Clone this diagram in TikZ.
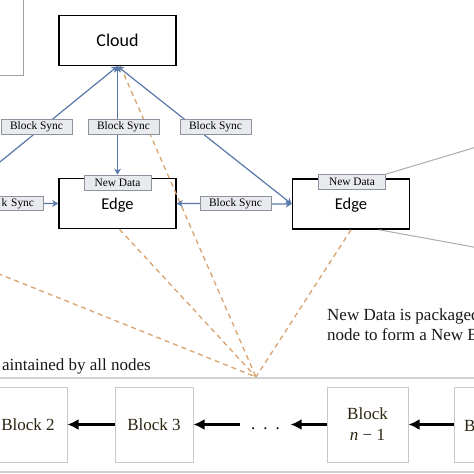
\documentclass[tikz,border=0pt]{standalone}
\usepackage{fontspec}
\setmainfont{Liberation Serif}
\newfontfamily\carlito{Carlito}
\usetikzlibrary{arrows.meta}
\definecolor{syncblue}{HTML}{5878AC}
\definecolor{labelfill}{HTML}{E8EAEE}
\definecolor{labeldraw}{HTML}{8C939C}
\definecolor{dashorange}{HTML}{D9A36E}
\definecolor{framegray}{HTML}{D2D2D2}
\definecolor{blockgray}{HTML}{C9C9C9}
\definecolor{blocktext}{HTML}{2A2410}
\begin{document}
\begin{tikzpicture}[x=1pt,y=-1pt,
  mainbox/.style={draw=black, line width=1.6pt, fill=white, minimum width=117pt, minimum height=50pt, inner sep=0pt},
  synclabel/.style={draw=labeldraw, line width=0.8pt, fill=labelfill, font=\fontsize{11.4}{13}\selectfont, minimum width=71pt, minimum height=14.5pt, inner sep=0pt},
  syncarrow/.style={draw=syncblue, line width=1.2pt, {Stealth[length=6pt,width=7pt]}-{Stealth[length=6pt,width=7pt]}},
  orangedash/.style={draw=dashorange, line width=1.3pt, dash pattern=on 5pt off 4pt},
  greyline/.style={draw=gray!65, line width=1pt},
  blockbox/.style={draw=blockgray, line width=1pt, fill=white, minimum width=78pt, minimum height=75pt, inner sep=0pt, text=blocktext, font=\fontsize{17}{21}\selectfont, align=center},
  chainarrow/.style={draw=black, line width=3pt, -{Latex[length=11pt,width=11pt]}},
  captiontext/.style={font=\fontsize{17}{20}\selectfont, text=black!90, inner sep=0pt}
]
\useasboundingbox (0,0) rectangle (474,474);
\clip (0,0) rectangle (474,474);
\fill[white] (0,0) rectangle (474,474);

% top-left partial box
\node[draw=gray!75, line width=1pt, minimum width=100pt, minimum height=100pt, anchor=south east, inner sep=0pt] (topleft) at (24,76) {};

% main boxes
\node[mainbox, font=\carlito\fontsize{18}{20}\selectfont] (cloud) at (117.5,40.5) {Cloud};
\node[mainbox] (edge1) at (117.5,203.5) {};
\node[mainbox] (edge2) at (351,204) {};
\node[mainbox] (edge0) at (-111,204) {};
\node[font=\carlito\fontsize{16.5}{18}\selectfont, anchor=base, inner sep=0pt] (edge1txt) at (117.5,209.5) {Edge};
\node[font=\carlito\fontsize{16.5}{18}\selectfont, anchor=base, inner sep=0pt] (edge2txt) at (351,209.5) {Edge};

% new data labels
\node[synclabel, minimum width=67pt, minimum height=15pt] (nd1) at (117.5,182.5) {New Data};
\node[synclabel, minimum width=67pt, minimum height=15pt] (nd2) at (352,182) {New Data};

% grey zoom lines from right edge
\coordinate (zoomtop) at (520,134);
\coordinate (zoombot) at (520,255.5);
\draw[greyline] (nd2.north east) -- (zoomtop);
\draw[greyline] ([xshift=-31pt]edge2.south east) -- (zoombot);

% orange dashed lines
\coordinate (apex) at (256,377);
\draw[orangedash] ([xshift=3pt]cloud.south) -- (apex);
\draw[orangedash] ([xshift=2pt]edge1.south) -- (apex);
\draw[orangedash] (edge2.south) -- (apex);
\draw[orangedash] (edge0.south) -- (apex);

% block sync arrows
\draw[syncarrow] (cloud.south) -- (edge0.east);
\draw[syncarrow] (cloud.south) -- (nd1.north);
\draw[syncarrow] (cloud.south) -- (edge2.west);
\draw[syncarrow] (edge1.east) -- (edge2.west);
\draw[syncarrow] (edge0.east) -- (edge1.west);

% block sync labels
\node[synclabel] (bs1) at (36.5,127) {Block Sync};
\node[synclabel] (bs2) at (123.5,127) {Block Sync};
\node[synclabel] (bs3) at (215.5,127) {Block Sync};
\node[synclabel] (bs4) at (235.5,203.5) {Block Sync};
\node[synclabel, text width=53pt, align=right] (bs5) at (7.5,203.5) {k Sync};

% caption texts
\node[captiontext, anchor=base east] (chaincap) at (151,370) {aintained by all nodes};
\node[captiontext, anchor=base west] (cap1) at (327,320) {New Data is packaged};
\node[captiontext, anchor=base west] (cap2) at (327,340) {node to form a New B};

% chain frame
\node[draw=framegray, line width=2pt, minimum width=494pt, minimum height=94pt, inner sep=0pt] (chain) at (237,425) {};

% blocks
\node[blockbox] (block2) at (28,424.5) {Block 2};
\node[blockbox] (block3) at (154,424.5) {Block 3};
\node[blockbox, minimum width=81pt] (blockn1) at (367.5,424.5) {Block\\\textit{n} − 1};
\node[blockbox] (blockn) at (493,424.5) {};
\node[anchor=base west, inner sep=0pt, text=blocktext, font=\fontsize{17}{21}\selectfont] (blockntxt) at (464,431) {Block};
\node[inner xsep=10.5pt, inner ysep=0pt, font=\fontsize{17}{20}\selectfont] (dots) at (265.5,429) {.\hspace{8pt}.\hspace{8pt}.};

% chain arrows
\draw[chainarrow] (block3.west) -- (block2.east);
\draw[chainarrow] (dots.west |- block3.east) -- (block3.east);
\draw[chainarrow] (blockn1.west) -- (dots.east |- blockn1.west);
\draw[chainarrow] (blockn.west) -- (blockn1.east);
\end{tikzpicture}
\end{document}
